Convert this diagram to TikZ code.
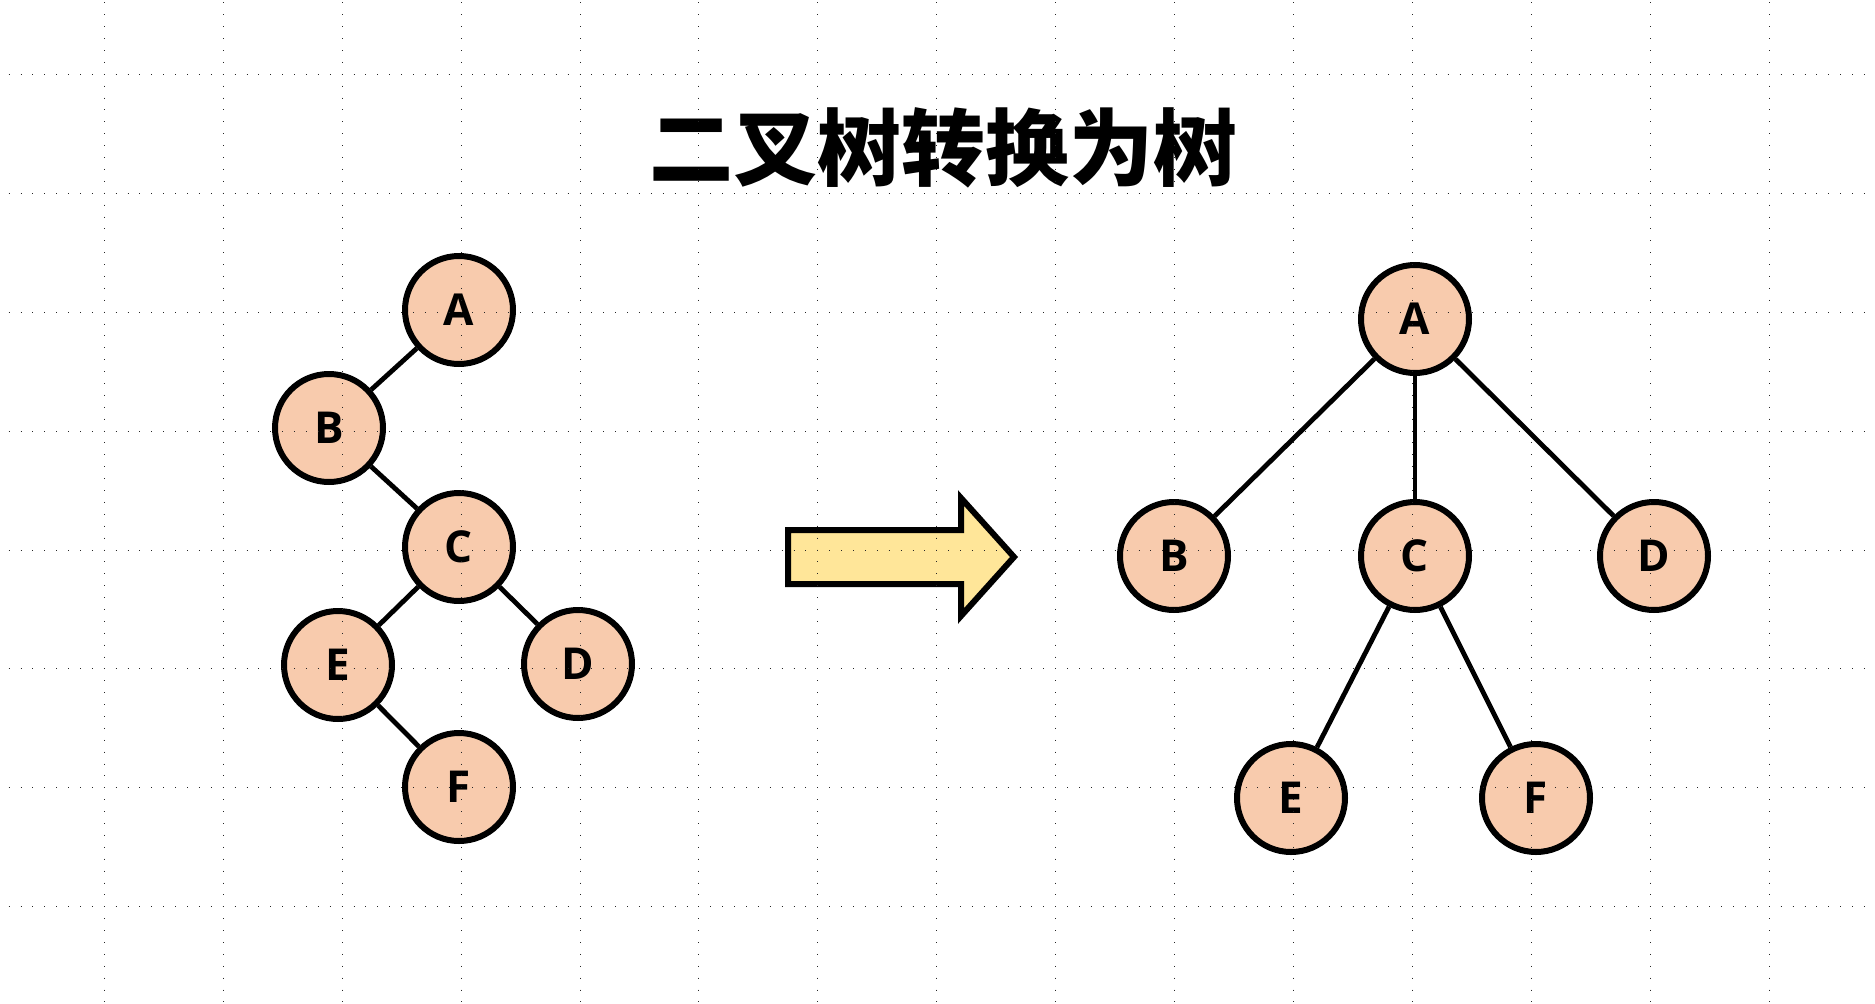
\documentclass[tikz,border=0pt]{standalone}
\usepackage{fontspec}
\newfontfamily\cjk{Noto Sans CJK SC}
\newfontfamily\lat{Open Sans}
\definecolor{peach}{HTML}{F8CBAD}
\definecolor{butter}{HTML}{FFE699}
\begin{document}
\begin{tikzpicture}[x=1pt,y=-1pt,
  tn/.style={circle,draw=black,line width=6pt,fill=peach,minimum size=108pt,inner sep=0pt,
    font=\lat\bfseries\fontsize{44}{44}\selectfont},
  edge/.style={line width=4.8pt},
  dotline/.style={line width=1pt,dash pattern=on 1pt off 10.893pt,black!85}]
\useasboundingbox (0,0) rectangle (1875,1004);
\fill[white] (0,0) rectangle (1875,1004);
\begin{scope}
\clip (0,0) rectangle (1875,1004);
% title
\node (title) at (943.5,148) {\cjk\bfseries\fontsize{84}{84}\selectfont 二叉树转换为树};
% left binary tree
\node[tn] (lA) at (459,310) {A};
\node[tn] (lB) at (329,428) {B};
\node[tn] (lC) at (459,547) {C};
\node[tn] (lE) at (338,665) {E};
\node[tn] (lD) at (578,664) {D};
\node[tn] (lF) at (459,787) {F};
\draw[edge] (lA) -- (lB);
\draw[edge] (lB) -- (lC);
\draw[edge] (lC) -- (lE);
\draw[edge] (lC) -- (lD);
\draw[edge] (lE) -- (lF);
% arrow
\draw[line width=6pt,fill=butter,miter limit=10]
  (788,530) -- (961,530) -- (961,498) -- (1014,557) -- (961,616) -- (961,584) -- (788,584) -- cycle;
% right tree
\node[tn] (rA) at (1415,319) {A};
\node[tn] (rB) at (1174,556) {B};
\node[tn] (rC) at (1415,556) {C};
\node[tn] (rD) at (1654,556) {D};
\node[tn] (rE) at (1291,798) {E};
\node[tn] (rF) at (1536,798) {F};
\draw[edge] (rA) -- (rB);
\draw[edge] (rA) -- (rC);
\draw[edge] (rA) -- (rD);
\draw[edge] (rC) -- (rE);
\draw[edge] (rC) -- (rF);
% dotted grid
\foreach \k in {0,...,7}{
  \draw[dotline] (-3.24,74.3+\k*118.93) -- (1880,74.3+\k*118.93);
}
\foreach \k in {0,...,14}{
  \draw[dotline] (104.3+\k*118.93,-9.45) -- (104.3+\k*118.93,1010);
}
\end{scope}
\end{tikzpicture}
\end{document}
